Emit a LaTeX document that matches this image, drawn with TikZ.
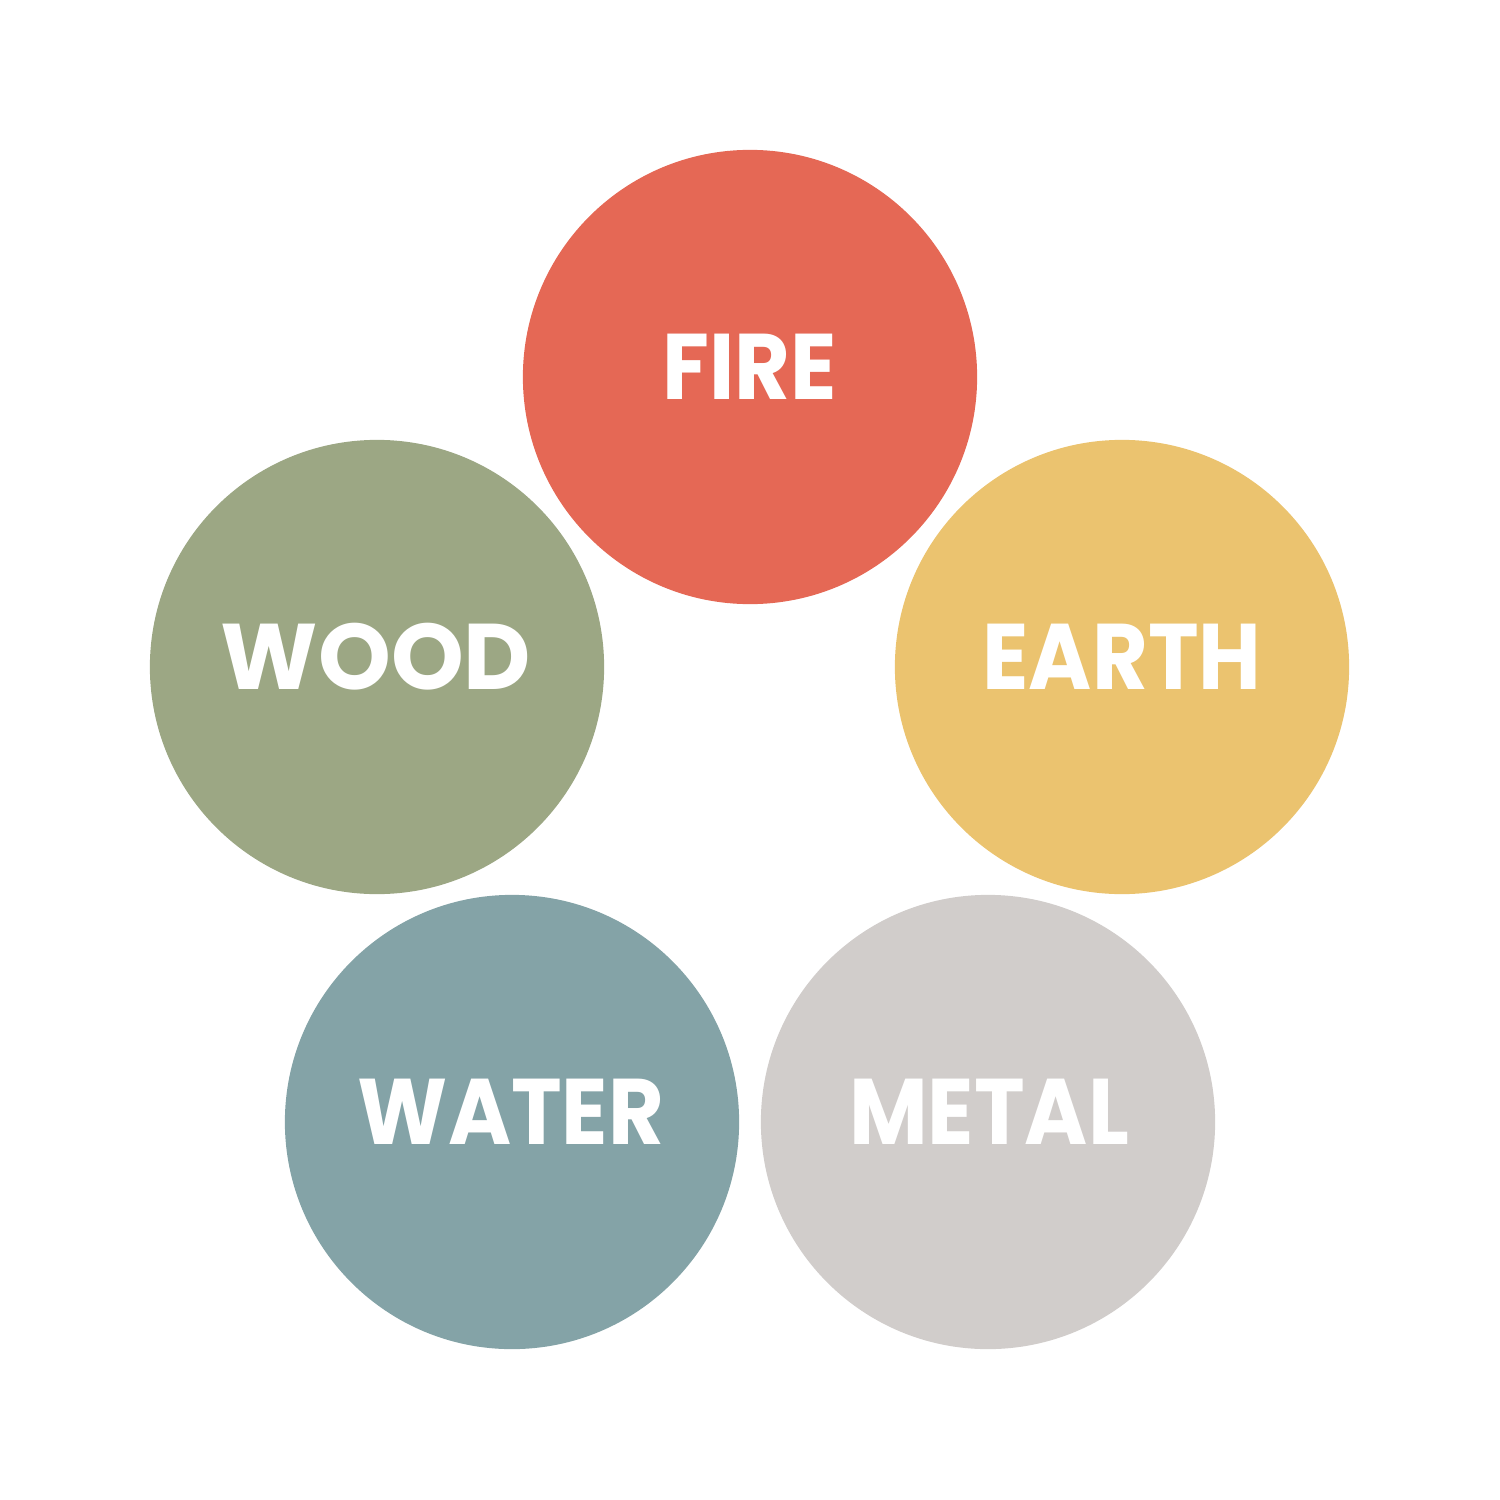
\documentclass[tikz,border=0pt]{standalone}
\usepackage{fontspec}
\setmainfont{Poppins}
\definecolor{fire}{HTML}{E56855}
\definecolor{wood}{HTML}{9CA784}
\definecolor{earth}{HTML}{EBC36F}
\definecolor{water}{HTML}{84A3A7}
\definecolor{metal}{HTML}{D1CDCB}
\begin{document}
\begin{tikzpicture}[x=0.01cm,y=-0.01cm,
  elem/.style={circle,minimum size=4.54cm,inner sep=0pt},
  lbl/.style={text=white,xscale=0.92,font=\fontsize{26.5}{26.5}\selectfont\bfseries}]
\useasboundingbox (0,0) rectangle (1500,1500);
\node[elem,fill=fire]  (fire)  at (750,377) {};
\node[elem,fill=wood]  (wood)  at (377,667) {};
\node[elem,fill=earth] (earth) at (1122,667) {};
\node[elem,fill=water] (water) at (512,1122) {};
\node[elem,fill=metal] (metal) at (988,1122) {};
\node[lbl] (tfire)  at (750,367) {FIRE};
\node[lbl,xscale=1.08] (twood)  at (376,657) {WOOD};
\node[lbl] (tearth) at (1122,657) {EARTH};
\node[lbl] (twater) at (511,1112) {WATER};
\node[lbl] (tmetal) at (989,1112) {METAL};
\end{tikzpicture}
\end{document}
